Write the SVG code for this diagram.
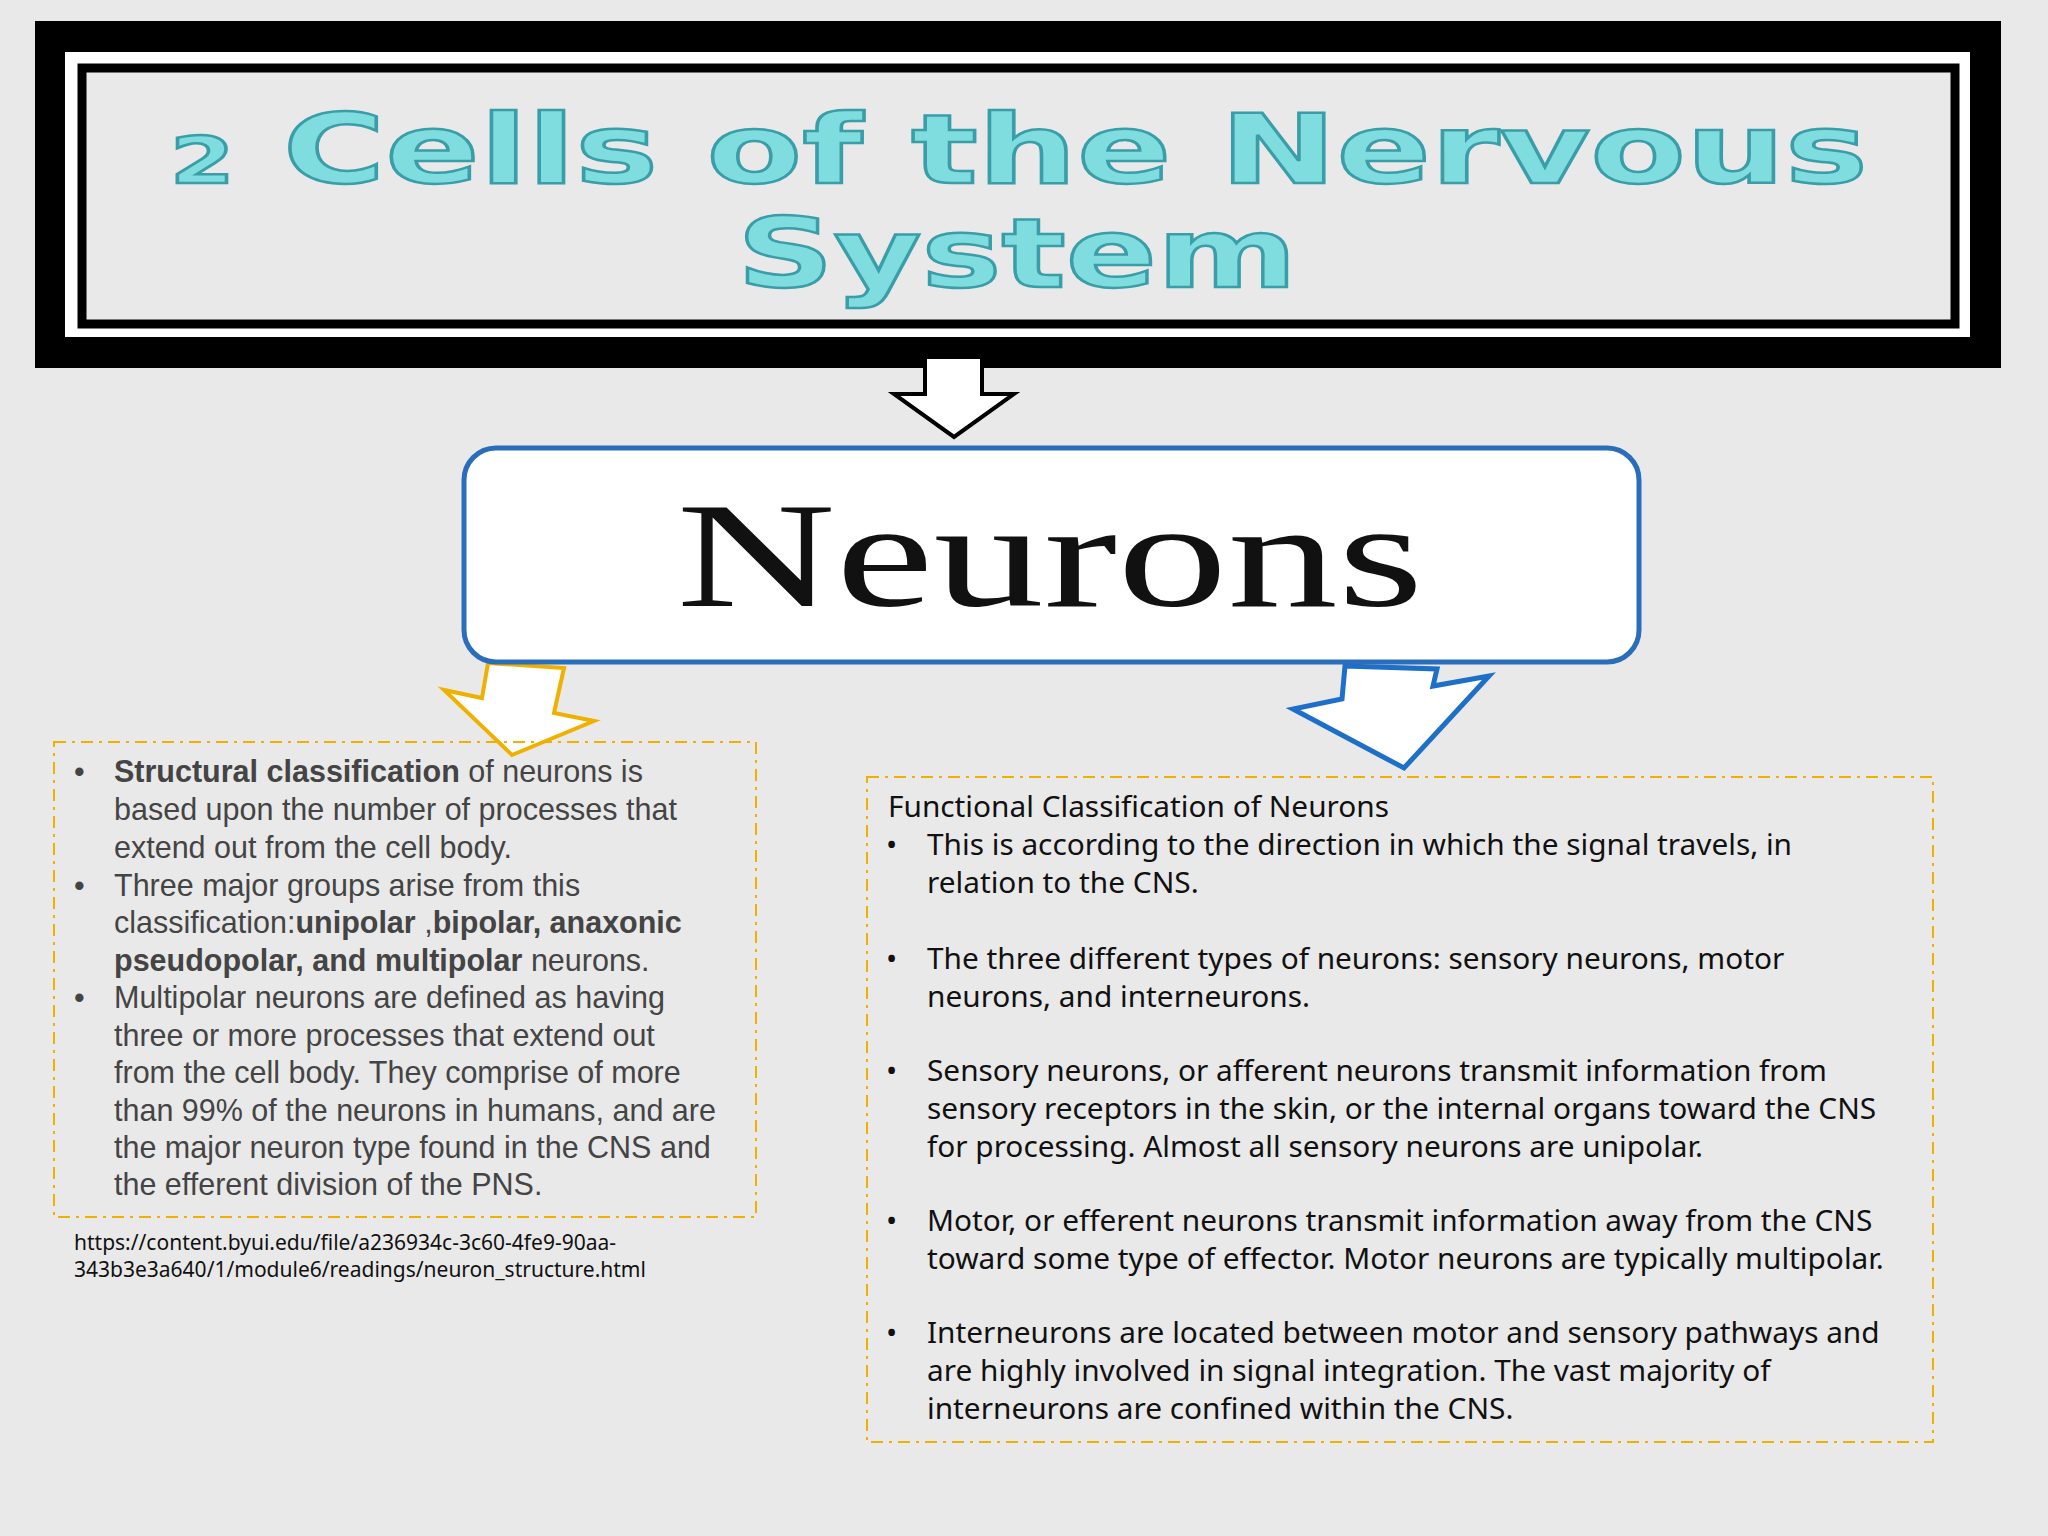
<svg xmlns="http://www.w3.org/2000/svg" width="2048" height="1536" viewBox="0 0 2048 1536">
<style>
.l{font-family:"Liberation Sans",Arial,sans-serif;font-size:30.5px;fill:#444}
.b{font-weight:bold}
.r{font-family:"Noto Sans","Open Sans",sans-serif;font-size:29.8px;fill:#111}
.t{font-family:"DejaVu Sans",sans-serif;font-weight:bold;font-size:96px;fill:#7fdde0;stroke:#3a9ea8;stroke-width:2.5}
.dash{fill:none;stroke:#f0b000;stroke-width:2;stroke-dasharray:12 6 3 6}
</style>
<rect width="2048" height="1536" fill="#e9e9e9"/>
<g id="title">
<rect x="35" y="21" width="1966" height="347" fill="#000"/>
<rect x="65" y="52" width="1905" height="285" fill="#fff"/>
<rect x="82" y="68" width="1873" height="256" fill="#e9e9e9" stroke="#000" stroke-width="9"/>
<text class="t" x="170" y="183" textLength="1698" lengthAdjust="spacingAndGlyphs"><tspan font-size="64">2</tspan> Cells of the Nervous</text>
<text class="t" x="737" y="287" textLength="560" lengthAdjust="spacingAndGlyphs">System</text>
</g>
<g id="connectors" stroke-width="4" stroke-linejoin="miter">
<polygon points="925,357 982,357 982,394 1014,394 954,437 894,394 925,394" fill="#fff" stroke="#000"/>
<polygon points="488,663 564,668 554,713 594,721 512,755 444,690 482,698" fill="#fff" stroke="#f0b000"/>
<polygon points="1345,666 1437,669 1433,686 1489,676 1404,768 1293,709 1342,699" fill="#fff" stroke="#1e6fc8" stroke-width="5"/>
</g>
<g id="neurons">
<rect x="464" y="448" width="1175" height="214" rx="32" fill="#fff" stroke="#2a6ebb" stroke-width="5"/>
<text x="1050" y="606" text-anchor="middle" font-family="Liberation Serif,serif" font-size="150" fill="#111" textLength="747" lengthAdjust="spacingAndGlyphs">Neurons</text>
</g>
<g id="structural">
<rect class="dash" x="54" y="742" width="702" height="475"/>
<g class="l">
<text x="74" y="782">•</text><text x="114" y="782"><tspan class="b">Structural classification</tspan> of neurons is</text>
<text x="114" y="820">based upon the number of processes that</text>
<text x="114" y="858">extend out from the cell body.</text>
<text x="74" y="896">•</text><text x="114" y="896">Three major groups arise from this</text>
<text x="114" y="933">classification:<tspan class="b">unipolar</tspan> ,<tspan class="b">bipolar, anaxonic</tspan></text>
<text x="114" y="971"><tspan class="b">pseudopolar, and multipolar</tspan> neurons.</text>
<text x="74" y="1008">•</text><text x="114" y="1008">Multipolar neurons are defined as having</text>
<text x="114" y="1046">three or more processes that extend out</text>
<text x="114" y="1083">from the cell body. They comprise of more</text>
<text x="114" y="1121">than 99% of the neurons in humans, and are</text>
<text x="114" y="1158">the major neuron type found in the CNS and</text>
<text x="114" y="1195">the efferent division of the PNS.</text>
</g>
<text font-family="Noto Sans,sans-serif" font-size="21" fill="#111" x="74" y="1250">https://content.byui.edu/file/a236934c-3c60-4fe9-90aa-</text>
<text font-family="Noto Sans,sans-serif" font-size="21" fill="#111" x="74" y="1277">343b3e3a640/1/module6/readings/neuron_structure.html</text>
</g>
<g id="functional">
<rect class="dash" x="867" y="777" width="1066" height="665"/>
<g class="r">
<text x="888" y="817">Functional Classification of Neurons</text>
<text x="886" y="855">•</text><text x="927" y="855">This is according to the direction in which the signal travels, in</text>
<text x="927" y="893">relation to the CNS.</text>
<text x="886" y="969">•</text><text x="927" y="969">The three different types of neurons: sensory neurons, motor</text>
<text x="927" y="1007">neurons, and interneurons.</text>
<text x="886" y="1081">•</text><text x="927" y="1081">Sensory neurons, or afferent neurons transmit information from</text>
<text x="927" y="1119">sensory receptors in the skin, or the internal organs toward the CNS</text>
<text x="927" y="1157">for processing. Almost all sensory neurons are unipolar.</text>
<text x="886" y="1231">•</text><text x="927" y="1231">Motor, or efferent neurons transmit information away from the CNS</text>
<text x="927" y="1269">toward some type of effector. Motor neurons are typically multipolar.</text>
<text x="886" y="1343">•</text><text x="927" y="1343">Interneurons are located between motor and sensory pathways and</text>
<text x="927" y="1381">are highly involved in signal integration. The vast majority of</text>
<text x="927" y="1419">interneurons are confined within the CNS.</text>
</g>
</g>
</svg>
